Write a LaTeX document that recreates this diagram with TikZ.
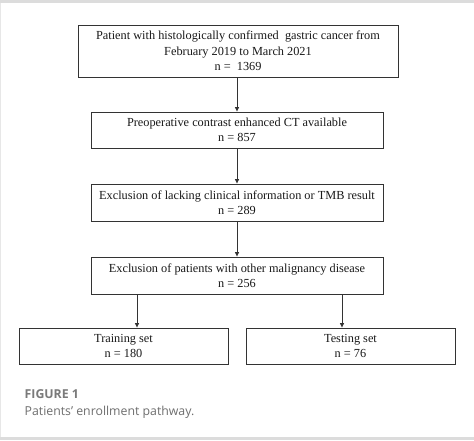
\documentclass[tikz,border=0pt]{standalone}
\usepackage{fontspec}
\setmainfont{Liberation Serif}
\newfontfamily\capfont{Open Sans}
\usetikzlibrary{arrows.meta}
\definecolor{boxline}{HTML}{333333}
\definecolor{captxt}{HTML}{6E6E6E}
\definecolor{capbold}{HTML}{7A7A7A}
\definecolor{band}{HTML}{DCDCDC}
\tikzset{
  flowbox/.style={draw=boxline, line width=0.9pt, inner sep=0pt, align=center,
    font=\fontsize{12.3}{15.5}\selectfont, text=black!90},
  arr/.style={draw=boxline, line width=0.7pt, -{Triangle[length=4.5pt,width=4pt]}},
}
\begin{document}
\begin{tikzpicture}[x=1pt,y=-1pt]
\useasboundingbox (0,0) rectangle (474,440);
\fill[white] (0,0) rectangle (474,440);
\fill[band] (0,0) rectangle (474,2.5);
\fill[band] (0,437) rectangle (474,440);
\draw[band!70, line width=0.6pt] (0.3,2.5) -- (0.3,437);

\node[flowbox, minimum width=320, minimum height=52] (b1) at (238,51)
  {Patient with histologically confirmed\ \ gastric cancer from\\ February 2019 to March 2021\\ n =\ \ 1369};
\node[flowbox, minimum width=292, minimum height=36] (b2) at (237,130)
  {Preoperative contrast enhanced CT available\\ n = 857};
\node[flowbox, minimum width=292, minimum height=37] (b3) at (237,202.5)
  {Exclusion of lacking clinical information or TMB result\\ n = 289};
\node[flowbox, minimum width=292, minimum height=37] (b4) at (237,275.5)
  {Exclusion of patients with other malignancy disease\\ n = 256};
\node[flowbox, minimum width=209, minimum height=36] (tr) at (123.5,346)
  {Training set\\ n = 180};
\node[flowbox, minimum width=209, minimum height=36] (te) at (350.5,346)
  {Testing set\\ n = 76};

\coordinate (ca) at (137,0);
\coordinate (cb) at (342,0);
\draw[arr] (b1.south -| b2.north) -- (b2.north);
\draw[arr] (b2.south) -- (b3.north);
\draw[arr] (b3.south) -- (b4.north);
\draw[arr] (b4.south -| ca) -- (tr.north -| ca);
\draw[arr] (b4.south -| cb) -- (te.north -| cb);

\node[anchor=base west, inner sep=0pt, text=capbold, font=\capfont\bfseries\fontsize{12.3}{15}\selectfont] (fig) at (24.5,398) {FIGURE 1};
\node[anchor=base west, inner sep=0pt, text=captxt, font=\capfont\fontsize{12.3}{14}\selectfont] (cap) at (24.5,415) {Patients’ enrollment pathway.};
\end{tikzpicture}
\end{document}
